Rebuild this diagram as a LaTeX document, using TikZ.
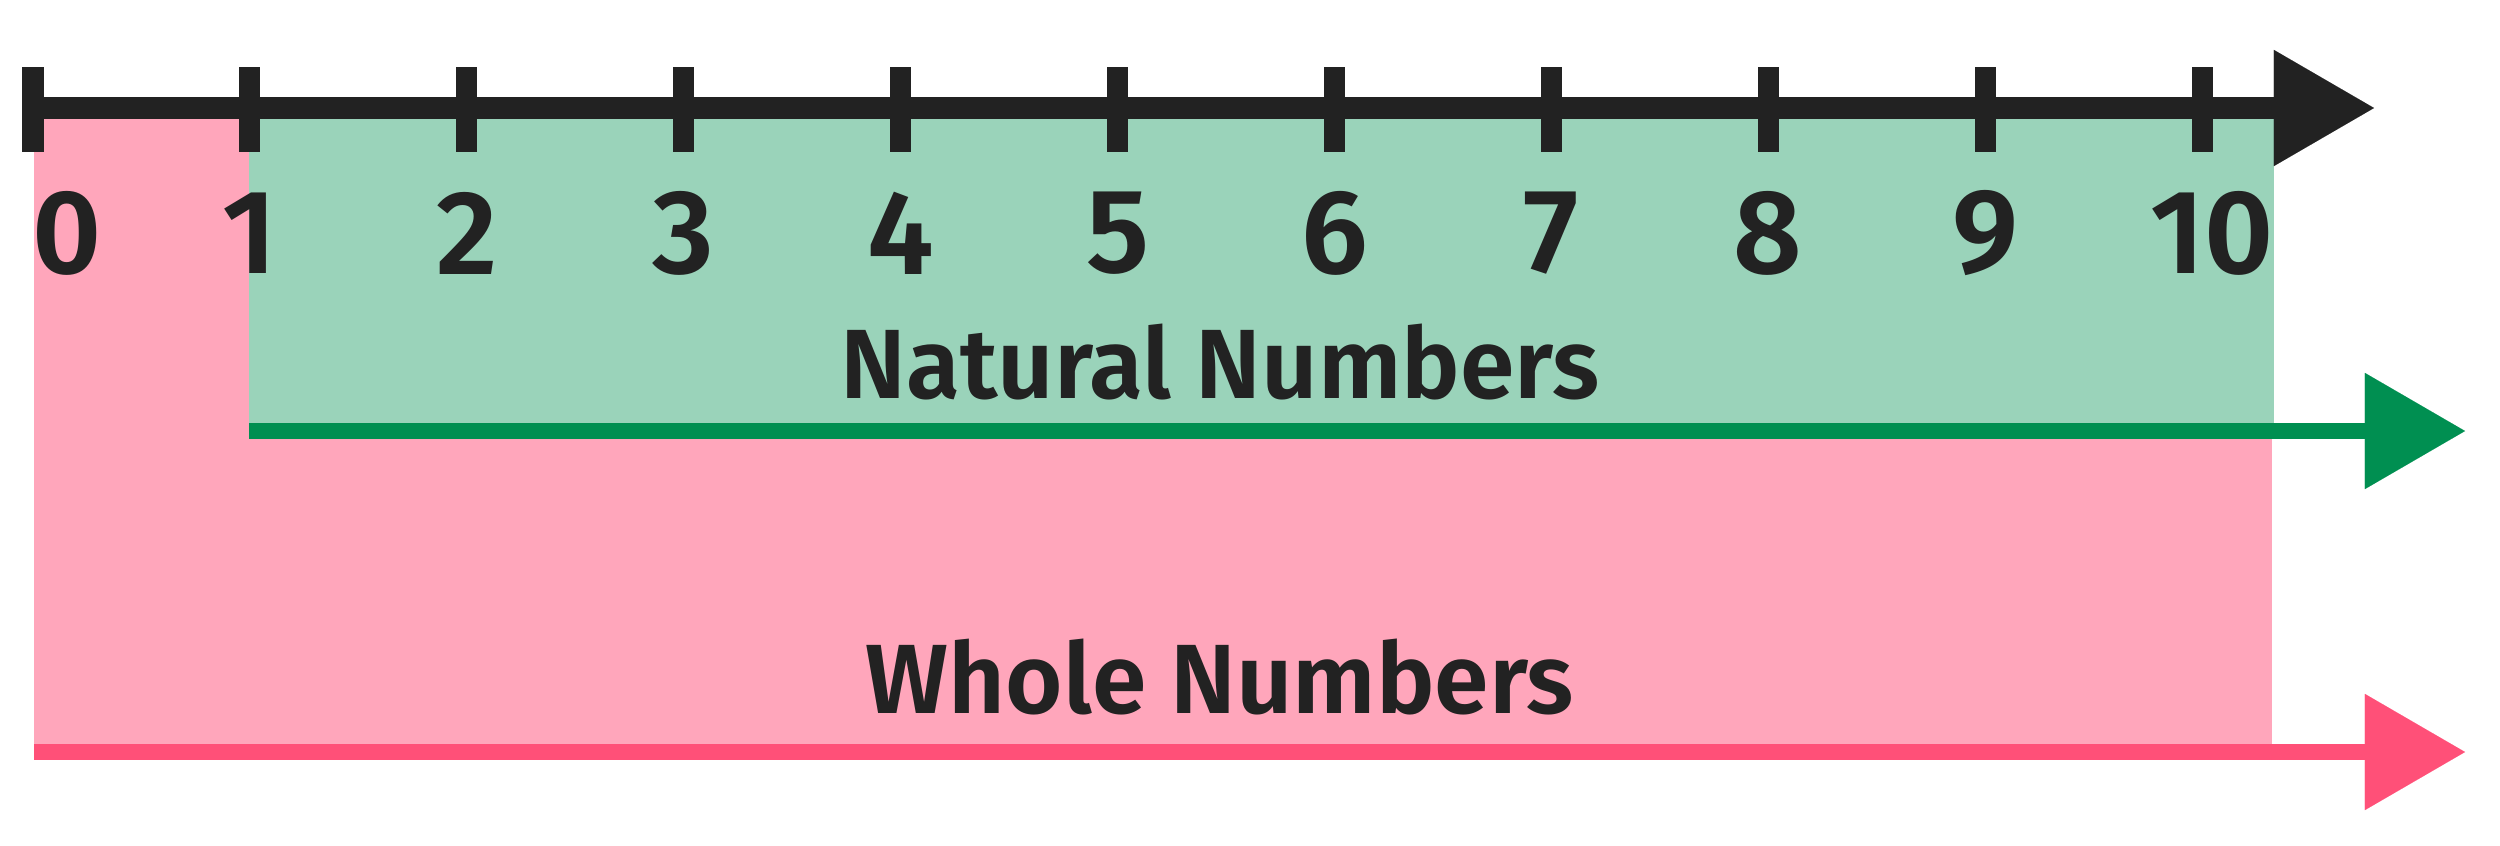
\documentclass[tikz,border=0pt]{standalone}
\usepackage{fontspec}
\setmainfont{Fira Sans}[BoldFont={Fira Sans SemiBold}]
\usetikzlibrary{arrows.meta,positioning}
\definecolor{axisblack}{HTML}{222222}
\definecolor{natfill}{HTML}{9AD3BA}
\definecolor{natline}{HTML}{008F51}
\definecolor{wholefill}{HTML}{FFA6BB}
\definecolor{wholeline}{HTML}{FF5078}

\begin{document}
\begin{tikzpicture}[x=0.01cm,y=-0.01cm,
                    tick mark/.style={draw=axisblack,line width=0.21cm},
                    num label/.style={font=\fontsize{34}{34}\selectfont\bfseries,text=axisblack,inner sep=0pt},
                    set label/.style={font=\fontsize{28}{28}\selectfont\bfseries,text=axisblack,inner sep=0pt,anchor=base},
                    big tip/.style={-{Triangle[length=1cm,width=1.16cm,line width=0.01pt]}},
                    set arrow/.style={big tip,line width=0.165cm}]
  \useasboundingbox (0,0) rectangle (2500,845);

  %sets%
  \fill[wholefill] (34,119) rectangle (2272,744);
  \fill[natfill] (249,119) rectangle (2274,423);

  %axis%
  \coordinate (axis start) at (23,108);
  \coordinate (axis end) at (2374,108);
  \draw[axisblack,line width=0.22cm,big tip] (axis start) -- (axis end);
  \foreach \i/\dx in {0/34,1/0,2/0,3/0,4/0,5/0,6/0,7/0,8/0,9/0,10/10} {
    \draw[tick mark] (33+216.9*\i,67) -- (33+216.9*\i,152);
    \node[num label] (n\i) at (33+216.9*\i+\dx,233) {\i};
  }

  %labels%
  \node[set label] (natural) at (1220,398) {Natural Numbers};
  \node[set label] (whole) at (1220,713) {Whole Numbers};

  %arrows%
  \coordinate (nat start) at (249,431);
  \coordinate (nat end) at (2465,431);
  \coordinate (whole start) at (34,752);
  \coordinate (whole end) at (2465,752);
  \draw[set arrow,natline] (nat start) -- (nat end);
  \draw[set arrow,wholeline] (whole start) -- (whole end);
\end{tikzpicture}
\end{document}
